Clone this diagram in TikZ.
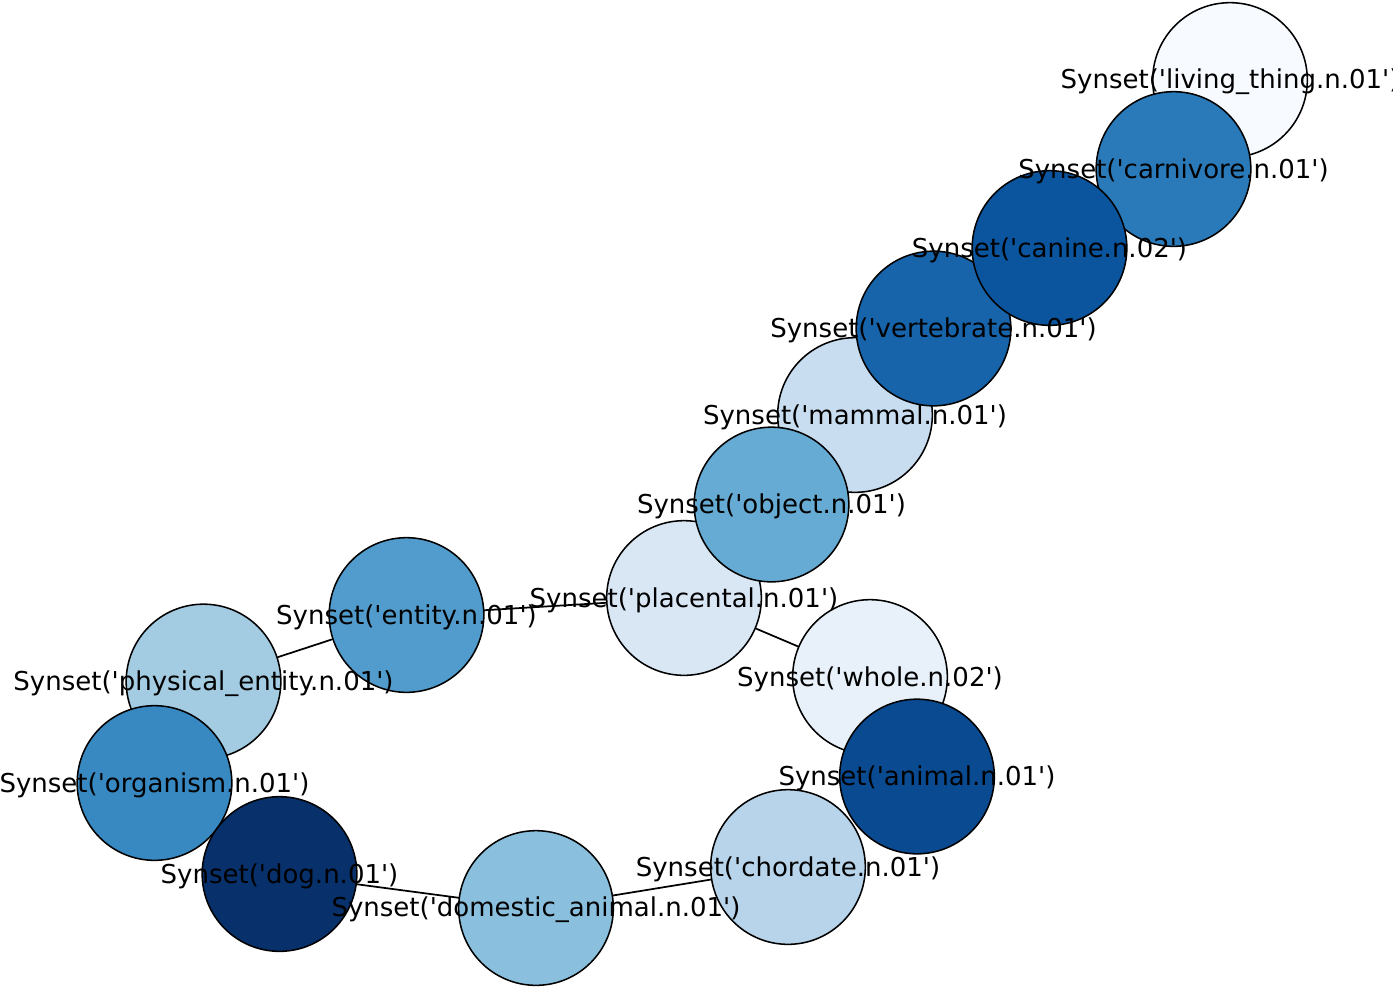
\documentclass[tikz,border=0pt]{standalone}
\usepackage{fontspec}
\setmainfont{DejaVu Sans}
\newfontfamily\labfont{DejaVu Sans}
\pgfdeclarelayer{bg}
\pgfsetlayers{bg,main}
\definecolor{cLiving}{HTML}{F7FBFF}
\definecolor{cCarn}{HTML}{2A7AB9}
\definecolor{cCanine}{HTML}{0B559F}
\definecolor{cVert}{HTML}{1764AB}
\definecolor{cMammal}{HTML}{C9DDF0}
\definecolor{cObject}{HTML}{66ABD4}
\definecolor{cPlac}{HTML}{D9E7F5}
\definecolor{cWhole}{HTML}{E8F1FA}
\definecolor{cAnimal}{HTML}{0A4A90}
\definecolor{cChord}{HTML}{B7D4EA}
\definecolor{cDom}{HTML}{8ABFDD}
\definecolor{cDog}{HTML}{08306B}
\definecolor{cOrg}{HTML}{3888C1}
\definecolor{cPhys}{HTML}{A3CCE3}
\definecolor{cEntity}{HTML}{519CCC}
\tikzset{
  syn/.style={circle, draw=black, line width=1.15pt, minimum size=116pt, inner sep=0pt},
  lab/.style={inner sep=0pt, font=\labfont\fontsize{19.5}{23}\selectfont, text=black},
  edge/.style={draw=black, line width=1.3pt}
}
\begin{document}
\begin{tikzpicture}[x=0.75pt,y=-0.75pt]
\useasboundingbox (0,0) rectangle (1393,990);
% circles in stacking order
\node[syn, fill=cLiving] (living) at (1230,80) {};
\node[syn, fill=cCarn] (carn) at (1173.5,169) {};
\node[syn, fill=cMammal] (mammal) at (855,415) {};
\node[syn, fill=cVert] (vert) at (933.5,328.5) {};
\node[syn, fill=cCanine] (canine) at (1049.5,248) {};
\node[syn, fill=cPlac] (plac) at (684,598) {};
\node[syn, fill=cObject] (object) at (771.5,504.5) {};
\node[syn, fill=cPhys] (phys) at (203.5,681.5) {};
\node[syn, fill=cOrg] (org) at (154.5,783) {};
\node[syn, fill=cDog] (dog) at (279.5,874) {};
\node[syn, fill=cWhole] (whole) at (870,677) {};
\node[syn, fill=cChord] (chord) at (788,867) {};
\node[syn, fill=cAnimal] (animal) at (917,776.5) {};
\node[syn, fill=cEntity] (entity) at (406.5,615) {};
\node[syn, fill=cDom] (dom) at (536,908) {};
% edges
\begin{pgfonlayer}{bg}
\draw[edge] (phys.center) -- (entity.center);
\draw[edge] (entity.center) -- (plac.center);
\draw[edge] (plac.center) -- (whole.center);
\draw[edge] (dog.center) -- (dom.center);
\draw[edge] (dom.center) -- (chord.center);
\end{pgfonlayer}
% labels
\node[lab] (lLiving) at ([yshift=-1.5pt]living) {Synset('living\_thing.n.01')};
\node[lab] (lCarn) at ([yshift=-1.5pt]carn) {Synset('carnivore.n.01')};
\node[lab] (lCanine) at ([yshift=-1.5pt]canine) {Synset('canine.n.02')};
\node[lab] (lVert) at ([yshift=-1.5pt]vert) {Synset('vertebrate.n.01')};
\node[lab] (lMammal) at ([yshift=-1.5pt]mammal) {Synset('mammal.n.01')};
\node[lab] (lObject) at ([yshift=-1.5pt]object) {Synset('object.n.01')};
\node[lab] (lPlac) at ([yshift=-1.5pt]plac) {Synset('placental.n.01')};
\node[lab] (lWhole) at ([yshift=-1.5pt]whole) {Synset('whole.n.02')};
\node[lab] (lAnimal) at ([yshift=-1.5pt]animal) {Synset('animal.n.01')};
\node[lab] (lChord) at ([yshift=-1.5pt]chord) {Synset('chordate.n.01')};
\node[lab] (lDom) at ([yshift=-1.5pt]dom) {Synset('domestic\_animal.n.01')};
\node[lab] (lDog) at ([yshift=-1.5pt]dog) {Synset('dog.n.01')};
\node[lab] (lOrg) at ([yshift=-1.5pt]org) {Synset('organism.n.01')};
\node[lab] (lPhys) at ([yshift=-1.5pt]phys) {Synset('physical\_entity.n.01')};
\node[lab] (lEntity) at ([yshift=-1.5pt]entity) {Synset('entity.n.01')};
\end{tikzpicture}
\end{document}
